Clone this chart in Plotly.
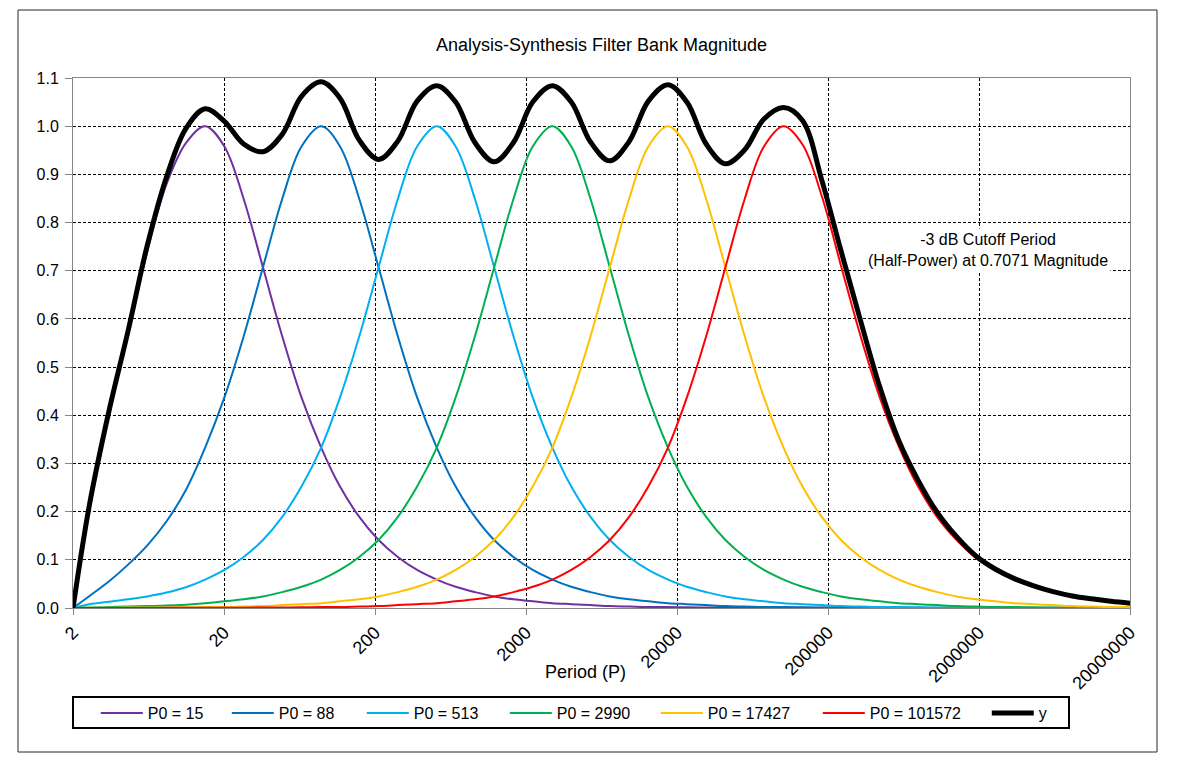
import plotly.graph_objects as go

# ---------------- data ----------------
period = [2, 2.573, 3.452, 4.631, 6.212, 8.334, 11.18,
          15, 20.12, 27.00, 36.22, 48.59, 65.19,
          88, 117.3, 157.4, 211.2, 283.3, 380.1,
          513, 684.1, 917.8, 1231, 1652, 2216,
          2990, 3989, 5351, 7179, 9631, 12921,
          17427, 23255, 31197, 41852, 56148, 75325,
          101572, 135567, 181870, 243988, 327322, 439118,
          589098, 790303, 1060229, 1422345, 1908143, 2559866,
          3434189, 4607136, 6180711, 8291730, 11123790, 14923131,
          20000000]

p15 = [0, 0.205, 0.40, 0.57, 0.74, 0.88, 0.965,
       1.0, 0.958, 0.849, 0.707, 0.564, 0.437,
       0.333, 0.252, 0.189, 0.141, 0.106, 0.079,
       0.059, 0.044, 0.033, 0.024, 0.018, 0.014,
       0.010, 0.008, 0.006, 0.004, 0.003, 0.002,
       0.002, 0.0013, 0.001, 0.001, 0.0006, 0.0005,
       0.0005, 0.0004, 0.0003, 0.0003, 0.0002, 0.0002,
       0.0002, 0.0001, 0.0001, 0.0001, 0.0001, 0.0001,
       0.0001, 0.0001, 0.0001, 0.0001, 0.0001, 0.0001,
       0.0001]

p88 = [0, 0.025, 0.055, 0.09, 0.13, 0.18, 0.245,
       0.333, 0.437, 0.564, 0.707, 0.849, 0.958,
       1.0, 0.958, 0.849, 0.707, 0.564, 0.437,
       0.333, 0.252, 0.189, 0.141, 0.106, 0.079,
       0.059, 0.044, 0.033, 0.024, 0.018, 0.014,
       0.010, 0.008, 0.006, 0.004, 0.003, 0.002,
       0.002, 0.0013, 0.001, 0.001, 0.0006, 0.0005,
       0.0005, 0.0004, 0.0003, 0.0003, 0.0002, 0.0002,
       0.0002, 0.0001, 0.0001, 0.0001, 0.0001, 0.0001,
       0.0001]

p513 = [0, 0.008, 0.013, 0.018, 0.024, 0.032, 0.043,
        0.059, 0.079, 0.106, 0.141, 0.189, 0.252,
        0.333, 0.437, 0.564, 0.707, 0.849, 0.958,
        1.0, 0.958, 0.849, 0.707, 0.564, 0.437,
        0.333, 0.252, 0.189, 0.141, 0.106, 0.079,
        0.059, 0.044, 0.033, 0.024, 0.018, 0.014,
        0.010, 0.008, 0.006, 0.004, 0.003, 0.002,
        0.002, 0.0013, 0.001, 0.001, 0.0006, 0.0005,
        0.0005, 0.0004, 0.0003, 0.0003, 0.0002, 0.0002,
        0.0002]

p2990 = [0, 0.001, 0.002, 0.003, 0.004, 0.005, 0.007,
         0.010, 0.014, 0.018, 0.024, 0.033, 0.044,
         0.059, 0.079, 0.106, 0.141, 0.189, 0.252,
         0.333, 0.437, 0.564, 0.707, 0.849, 0.958,
         1.0, 0.958, 0.849, 0.707, 0.564, 0.437,
         0.333, 0.252, 0.189, 0.141, 0.106, 0.079,
         0.059, 0.044, 0.033, 0.024, 0.018, 0.014,
         0.010, 0.008, 0.006, 0.004, 0.003, 0.002,
         0.002, 0.0013, 0.001, 0.001, 0.0006, 0.0005,
         0.0005]

p17427 = [0, 0.0003, 0.0005, 0.0008, 0.001, 0.0012, 0.0015,
          0.002, 0.002, 0.003, 0.004, 0.006, 0.008,
          0.010, 0.014, 0.018, 0.024, 0.033, 0.044,
          0.059, 0.079, 0.106, 0.141, 0.189, 0.252,
          0.333, 0.437, 0.564, 0.707, 0.849, 0.958,
          1.0, 0.958, 0.849, 0.707, 0.564, 0.437,
          0.333, 0.252, 0.189, 0.141, 0.106, 0.079,
          0.059, 0.044, 0.033, 0.024, 0.018, 0.014,
          0.010, 0.008, 0.006, 0.004, 0.003, 0.002,
          0.002]

p101572 = [0, 0.0001, 0.0001, 0.0002, 0.0002, 0.0003, 0.0004,
           0.0005, 0.0005, 0.0006, 0.001, 0.001, 0.0013,
           0.002, 0.002, 0.003, 0.004, 0.006, 0.008,
           0.010, 0.014, 0.018, 0.024, 0.033, 0.044,
           0.059, 0.079, 0.106, 0.141, 0.189, 0.252,
           0.333, 0.437, 0.564, 0.707, 0.849, 0.958,
           1.0, 0.962, 0.855, 0.71, 0.566, 0.438,
           0.335, 0.252, 0.188, 0.141, 0.104, 0.078,
           0.058, 0.044, 0.033, 0.024, 0.018, 0.013,
           0.010]

y_total = [0, 0.215, 0.407, 0.575, 0.753, 0.895, 0.995,
           1.036, 1.01, 0.963, 0.947, 0.983, 1.062,
           1.092, 1.058, 0.971, 0.931, 0.969, 1.052,
           1.084, 1.050, 0.966, 0.926, 0.966, 1.050,
           1.084, 1.050, 0.967, 0.928, 0.968, 1.052,
           1.086, 1.050, 0.963, 0.922, 0.951, 1.015,
           1.039, 1.012, 0.888, 0.741, 0.598, 0.460,
           0.347, 0.265, 0.198, 0.148, 0.108, 0.081,
           0.061, 0.046, 0.034, 0.025, 0.019, 0.014,
           0.010]

series_names = ["P0 = 15", "P0 = 88", "P0 = 513", "P0 = 2990",
                "P0 = 17427", "P0 = 101572", "y"]
series_values = [p15, p88, p513, p2990, p17427, p101572, y_total]
series_colors = ["#7030A0", "#0070C0", "#00B0F0", "#00B050",
                 "#FFC000", "#FF0000", "#000000"]
series_widths = [2, 2, 2, 2, 2, 2, 5]
legend_widths = [74, 78, 86, 94, 105, 112, 20]

x_tick_vals = [2, 20, 200, 2000, 20000, 200000, 2000000, 20000000]
x_tick_text = ["2", "20", "200", "2000", "20000", "200000", "2000000", "20000000"]
y_tick_vals = [0.0, 0.1, 0.2, 0.3, 0.4, 0.5, 0.6, 0.7, 0.8, 0.9, 1.0, 1.1]

FONT = "Liberation Sans, Arial, sans-serif"

fig = go.Figure()
for name, vals, col, w, lw in zip(series_names, series_values, series_colors,
                                  series_widths, legend_widths):
    fig.add_trace(go.Scatter(
        x=period, y=vals, name=name, mode="lines",
        line=dict(color=col, width=w, shape="spline", smoothing=1.0),
        legendwidth=lw, hoverinfo="skip"))

grid_dash = "3px,2px"
fig.update_xaxes(
    type="log", range=[0.30103, 7.30103],
    tickvals=x_tick_vals, ticktext=x_tick_text, tickangle=-45,
    tickfont=dict(family=FONT, size=18, color="#000"),
    showgrid=True, gridcolor="#000", gridwidth=1, griddash=grid_dash,
    showline=True, linecolor="#868686", linewidth=1, mirror=True,
    ticks="outside", ticklen=6, tickcolor="#868686",
    zeroline=False, automargin=False)
fig.update_yaxes(
    range=[0, 1.1], tickvals=y_tick_vals, tickformat=".1f",
    tickfont=dict(family=FONT, size=16, color="#000"),
    showgrid=True, gridcolor="#000", gridwidth=1, griddash=grid_dash,
    showline=True, linecolor="#868686", linewidth=1, mirror=True,
    ticks="outside", ticklen=7, tickcolor="#868686", ticklabelstandoff=3,
    zeroline=False, automargin=False)

# plot area: x 73..1130, y 78..608
def px_x(px):
    return (px - 73) / 1057.0

def px_y(py):
    return (608 - py) / 530.0

fig.update_layout(
    width=1180, height=773,
    margin=dict(l=73, r=50, t=78, b=165),
    paper_bgcolor="white", plot_bgcolor="white",
    font=dict(family=FONT, size=16, color="#000"),
    title=dict(text="Analysis-Synthesis Filter Bank Magnitude",
               x=0.5, xref="paper", xanchor="center",
               y=1 - 45 / 773.0, yref="container", yanchor="middle",
               font=dict(family=FONT, size=18, color="#000")),
    showlegend=True,
    legend=dict(orientation="h", x=px_x(95.8), xanchor="left",
                y=px_y(713), yanchor="middle", itemwidth=42,
                bgcolor="rgba(0,0,0,0)", borderwidth=0,
                font=dict(family=FONT, size=16, color="#000"),
                itemclick=False, itemdoubleclick=False),
    shapes=[
        dict(type="rect", xref="paper", yref="paper",
             x0=px_x(18), x1=px_x(1157), y0=px_y(752), y1=px_y(10),
             line=dict(color="#262626", width=1), fillcolor="rgba(0,0,0,0)",
             layer="below"),
        dict(type="rect", xref="paper", yref="paper",
             x0=px_x(73), x1=px_x(1069), y0=px_y(728), y1=px_y(697),
             line=dict(color="#000", width=2), fillcolor="rgba(0,0,0,0)"),
    ],
    annotations=[
        dict(text="Period (P)", xref="paper", yref="paper",
             x=px_x(585), y=px_y(672), xanchor="center", yanchor="middle",
             showarrow=False, font=dict(family=FONT, size=18, color="#000")),
        dict(text="-3 dB Cutoff Period<br>(Half-Power) at 0.7071 Magnitude",
             xref="paper", yref="paper", x=px_x(988), y=px_y(250),
             xanchor="center", yanchor="middle", align="center",
             bgcolor="white", borderpad=2,
             showarrow=False, font=dict(family=FONT, size=16, color="#000")),
    ],
)

fig.write_html("out.html")
